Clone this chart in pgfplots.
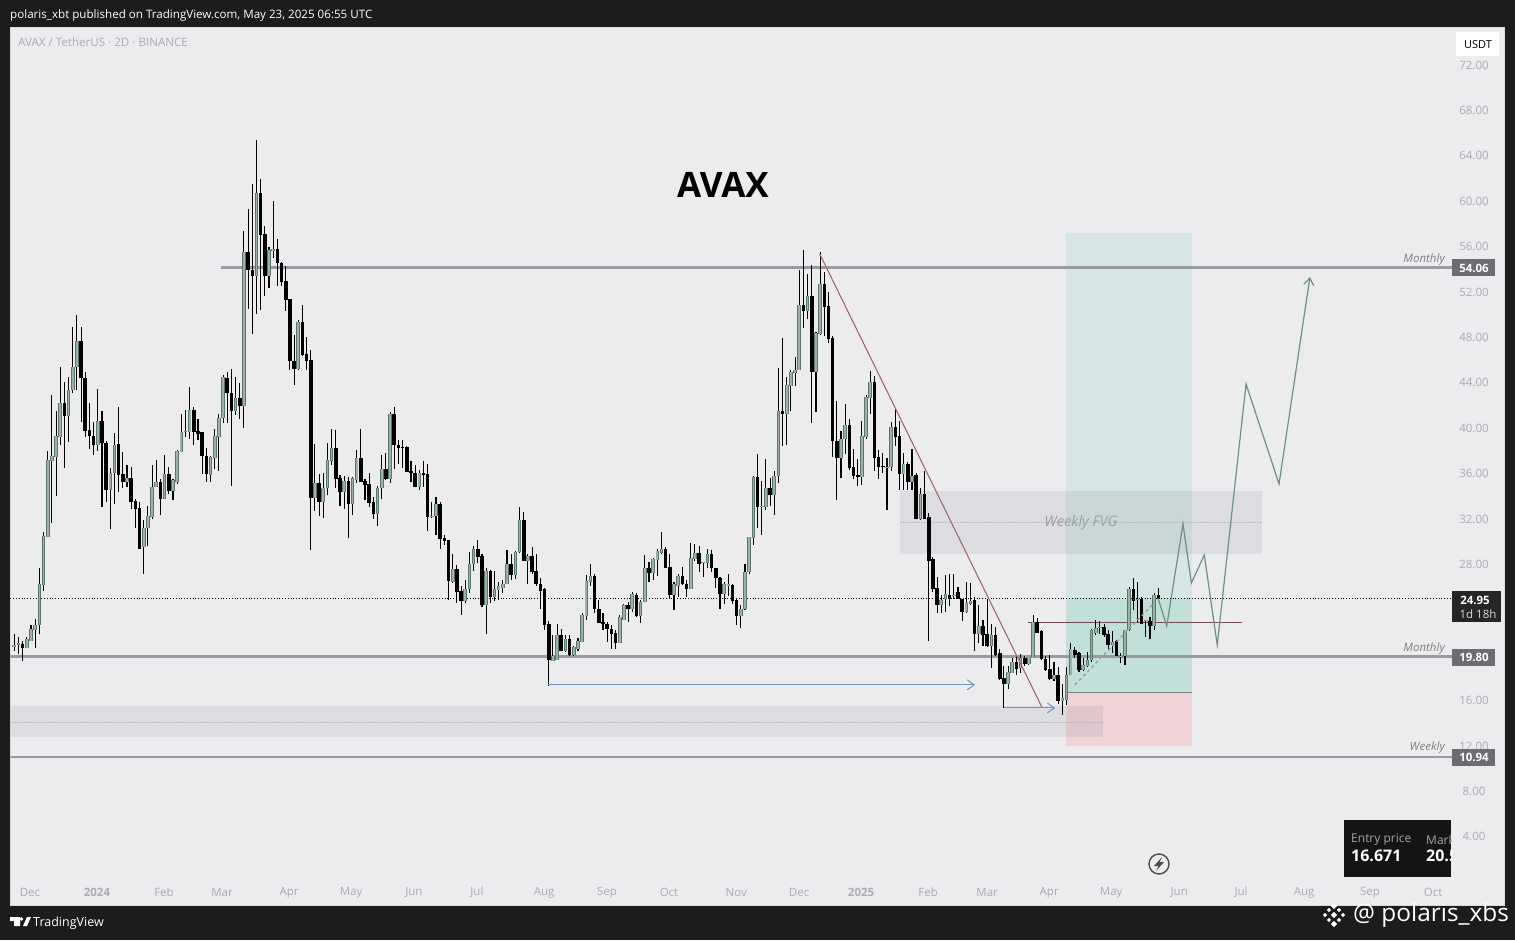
\documentclass[border=0pt]{standalone}
\usepackage{fontspec}
\usepackage{pgfplots}
\usepackage{pgfplotstable}
\pgfplotsset{compat=1.18}
\usetikzlibrary{arrows.meta}
\setmainfont{Open Sans}

\definecolor{frame}{HTML}{1C1C1C}
\definecolor{panel}{HTML}{ECECEF}
\definecolor{ticktext}{HTML}{ABABB0}
\definecolor{levelline}{HTML}{9A9AA3}
\definecolor{tagfill}{HTML}{6C6C72}
\definecolor{zonegray}{HTML}{808090}
\definecolor{tealhi}{HTML}{D6E6E4}
\definecolor{teallo}{HTML}{C3DFD9}
\definecolor{pinkzone}{HTML}{EFD2D6}
\definecolor{trend}{HTML}{A3686F}
\definecolor{arrowblue}{HTML}{6D96C6}
\definecolor{path}{HTML}{6C9082}
\definecolor{upedge}{HTML}{5A7668}
\definecolor{upfill}{HTML}{9EB1A7}

% x = candle number (2D candles), y = price
\pgfplotstableread{
i o h l c
0 20.6 21.8 20.3 20.8
1 20.8 21.5 20.05 21.0
3 20.55 21.5 20.55 21.3
4 21.2 22.55 21.2 22.2
5 22.1 23.1 20.55 22.6
6 22.6 27.55 21.75 26.2
7 26.1 30.8 25.6 30.4
8 30.3 37.9 30.3 37.1
9 37.05 42.8 31.6 37.45
10 37.4 41.4 33.9 39.25
11 39.15 45.3 38.4 42.1
13 41 44.45 38.7 43.3
14 43.3 48.85 43 45.3
15 45.3 49.9 43.3 47.6
20 38.4 43.4 37.9 40.55
23 34.5 36.4 31 36
24 36 39.5 33.2 38.4
27 35.15 36.7 34.7 35.5
31 29.4 31.8 27.1 31.1
32 31.1 33.05 29.5 32.2
33 32.05 36.65 31.9 34.7
34 34.75 37.1 34.7 35.15
36 33.7 37.55 33.65 35.9
38 34.4 35.4 33.6 35.35
39 35.15 38 35 37.9
40 37.85 41.15 37.85 39.6
41 39.6 41.55 39.1 39.7
42 39.6 43.55 39 41.5
47 35.8 37.45 35.2 37.4
48 37.3 39.8 36.3 39.25
49 39.15 41.2 36.15 40.85
50 40.85 44.6 40.4 44.4
53 41.4 44.4 41.05 42.55
55 41.85 57.3 39.95 55.4
58 53.35 65.3 50 60.6
61 53.3 55.85 52.3 55.6
62 55.55 59.9 54.9 55.7
68 45.15 49.45 45 49.3
72 33.8 38.5 32.6 35.1
74 33.45 36 32 34.6
75 34.6 38.65 34 37.1
76 37.05 39.85 36.65 38.2
79 34.3 35.7 32.8 35.25
81 33.2 35.6 32.25 35.5
82 35.35 38 35.1 37.25
87 32.35 34.8 31.3 34.65
88 34.6 37.55 33.65 36.35
90 35.45 41.35 35.1 41.2
97 34.7 36.2 34.45 36
100 32.1 33.4 32 32.2
101 32.15 33.85 30.5 33.2
105 26.35 28.8 26.3 27.5
108 24.65 26.55 24.55 25.7
109 25.7 29 25.35 27.95
110 27.95 29.5 27.35 29.25
113 24.35 27.55 21.75 27.35
115 25 27.3 24.65 25.75
116 25.65 26.35 24.75 26
117 25.85 26.55 25.4 26.2
118 26.2 29.15 26.15 27.95
120 27 29.1 26.6 29
121 29 32.95 28.95 31.8
123 28.2 28.8 26.15 28.65
129 19.4 21.65 19.4 19.8
130 19.5 22.7 19.5 21.65
132 20.3 21.65 20.2 21.3
134 19.9 20.7 19.8 20.6
135 20.5 21.4 20.3 21.15
136 21.1 23.65 21.1 23.45
137 23.35 27 23 26.45
138 26.35 27.95 26.05 26.9
145 21 23.45 21 23.3
146 23.05 24.4 23.05 24.3
148 23.95 25.5 23.7 25.3
150 23.35 24.75 22.75 24.6
151 24.6 28.7 24.6 27.55
153 27.15 28.45 26.5 28.4
154 28.3 29.3 26.9 29.1
155 28.95 30.8 28.85 29.25
158 25.2 26.35 23.85 26.15
159 26.05 27.1 25.05 26.9
162 25.75 29.8 25.7 28.5
163 28.4 29.75 28.2 28.95
165 28 28.1 26.8 28.1
166 28 29.25 27.55 28.85
170 25.3 26.35 24.4 26.15
171 26.05 27.1 25.15 26.15
174 23.35 24.3 22.3 23.95
175 23.95 27.95 23.9 27.25
176 27.2 30.35 27.05 30.35
177 30.25 35.7 29.65 35.65
179 33 35.3 30.5 33.05
180 33 37.2 32.7 34.6
182 34 36.1 32.25 35.7
183 35.7 45.2 35.05 41.4
185 41.2 44.45 38.4 43.7
186 43.65 45.05 41.45 44.85
187 44.75 46.2 43.6 45.05
188 45 53.85 45 50.8
190 50.2 53.5 49.5 51.55
192 44.9 48.35 41.3 48.3
193 48.25 55.4 48.1 52.65
198 37.3 39.65 35.5 38.95
199 38.95 42.05 37.65 40.2
203 35.65 40.55 34.9 39.2
204 39.1 42.85 38.95 42.65
205 42.55 44.95 41.15 43.95
209 36.4 37.25 32.7 36.5
210 36.45 40.45 36.15 40.05
213 35.9 37.7 34.5 36.75
215 35.2 38.05 34.5 35.7
217 31.9 34.6 31.8 34.15
222 24.35 25.2 23.65 24.8
223 24.85 27 23.75 25.3
225 25.1 27.1 24.9 25.2
228 23.7 26.4 23.65 24.5
229 24.4 26.25 24.35 24.7
231 21.8 24.35 21 22.5
234 20.75 22.7 18.75 21.7
238 17.4 19 16.95 18.4
239 18.35 19.65 18.35 19.35
241 18.75 20 18.3 19.7
243 19.1 19.65 19.05 19.65
244 19.7 23.45 19.7 22.8
249 17.8 19.35 17.6 18.15
251 15.85 17.4 14.65 16.1
252 15.95 18.85 15.55 18.2
253 18.2 20.95 18.15 20.45
256 18.6 19.7 18.55 19.05
257 19 20.2 18.9 19.45
258 19.45 22.2 19.35 22.1
259 21.9 23 21.65 22.3
260 22.3 22.95 21.8 22.4
263 20.8 22 20.1 21.1
265 19.75 20.1 19.2 19.8
266 19.85 22.1 19.05 22.1
267 22.1 25.9 22 25.75
269 24.8 26.4 22.85 24.9
271 22.9 23 21.55 23
273 22.5 25.35 22.15 25.2
}\upbars

\pgfplotstableread{
i o h l c
2 20.9 21.2 19.4 20.55
12 42.1 44 36.4 41
16 47.6 48.85 40.5 44.3
17 44.3 44.85 39.15 39.7
18 39.75 42.15 38.1 39.25
19 39.25 40.5 37.55 38.4
21 40.55 41.4 33 38.65
22 38.65 38.8 33.45 34.5
25 38.5 41.8 34.3 35.8
26 35.9 37.85 34.6 35.2
28 35.5 36.45 32.75 33.45
29 33.5 33.65 31.15 32.8
30 32.85 33.45 29.3 29.3
35 35.15 35.4 32.25 33.65
37 35.9 36.5 34.1 34.4
43 41.5 41.75 38.4 39.6
44 39.65 40.7 38.9 39.4
45 39.55 39.6 35.9 37.5
46 37.5 38.15 35.15 35.85
51 44.3 44.85 40.35 43
52 43 45.1 34.8 41.4
54 42.55 43.85 40.75 41.85
56 55.4 59.2 50.4 53.85
57 53.85 61.4 48.2 53.35
59 60.6 61.85 50.3 56.95
60 57 57.75 51.6 53.3
63 55.7 56.6 52.45 54.5
64 54.5 54.55 52.45 52.75
65 52.85 54.2 50.25 51.2
66 51.25 51.3 45 45.8
67 45.85 48.1 43.7 45.15
69 49.3 50.75 46.25 46.35
70 46.45 47.95 45.05 45.85
71 45.9 46.8 29.2 33.8
73 35.05 35.9 32.15 33.45
77 38.2 39.75 34.6 35.45
78 35.5 35.8 33.05 34.3
80 35.25 35.65 30.2 33.2
83 37.25 39.8 35.15 35.2
84 35.25 35.45 33.55 34.9
85 35 36 32.95 33.35
86 33.4 33.85 31.95 32.35
89 36.35 37.75 35.35 35.45
91 41.2 41.75 36.3 38.4
92 38.45 38.9 36.8 38.2
93 38.25 38.85 36.4 38.15
94 38.25 38.3 36.05 36.05
95 36.15 37 35.2 35.95
96 35.95 36.65 34.7 34.75
98 36 37.05 34.75 35.75
99 35.85 36.8 30.85 32.1
102 33.2 33.4 29.25 30.15
103 30.2 30.5 29.6 30
104 30.05 30.1 24.75 26.45
106 27.5 27.9 24.5 25.5
107 25.55 26 23.45 24.65
111 29.25 30.05 28 28.6
112 28.65 28.8 24.2 24.3
114 27.35 27.4 24.5 25
119 27.95 28.8 26.5 27
122 31.8 32.55 28.2 28.2
124 28.65 29.4 27.05 27.25
125 27.3 28.8 26.05 26.15
126 26.2 26.7 24 25.55
127 25.7 25.8 22.15 22.55
128 22.65 22.9 17.2 19.45
131 21.65 22.25 20.3 20.3
133 21.3 21.7 19.8 19.9
139 26.9 27.1 23.6 23.95
140 24 24.8 22.75 22.75
141 22.8 23.6 22.1 22.65
142 22.7 22.85 21.1 22.2
143 22.25 22.6 20.45 21.75
144 21.85 22.1 20.5 21
147 24.3 24.6 22.85 23.95
149 25.25 25.35 23.3 23.35
152 27.55 28.1 26.35 27.15
156 29.3 29.45 27.55 27.55
157 27.65 28.8 24.9 25.2
160 26.9 27.7 26.1 26.15
161 26.2 26.55 25 25.75
164 28.95 29.55 27.2 27.95
167 28.85 29.15 27.2 27.55
168 27.55 27.6 25.85 26.75
169 26.75 26.8 23.95 25.3
172 26.1 26.2 24.4 24.65
173 24.75 24.95 22.55 23.35
178 35.65 37.65 31.15 33
181 34.6 35.5 33.05 34
184 41.4 47.85 38.3 41.2
189 50.8 55.65 48.75 50.2
191 51.55 54.3 40.4 44.9
194 52.65 53.7 48 50.6
195 50.7 51.95 47.45 47.75
196 47.85 48.05 37.4 38.75
197 38.8 42.3 33.6 37.25
200 40.2 40.7 36.2 36.4
201 36.45 38.1 35.4 35.7
202 35.75 37.2 34.8 35.65
206 44 44.5 36.15 37.3
207 37.35 37.95 35.45 36.5
208 36.6 37.7 36 36.45
211 40.05 41.65 38.3 39.15
212 39.2 40.55 34.5 35.9
214 36.75 36.95 34.5 35.2
216 35.75 35.95 31.9 31.9
218 34.15 36.15 31.9 31.9
219 32.1 32.45 21.15 28.25
220 28.4 28.6 25.5 25.75
221 25.85 26.8 23.65 24.35
224 25.2 27.05 24.25 24.9
226 25.45 25.9 24.85 24.9
227 24.9 24.9 22.9 23.7
230 24.75 25.05 20.3 21.8
232 22.5 23 20.75 21.65
233 21.8 24.9 20.6 20.75
235 21.7 22.4 19.8 19.9
236 20.1 20.5 17.7 17.8
237 17.9 19 15.25 17.4
240 19.35 19.9 18.15 18.7
242 19.65 19.8 19 19.1
245 22.8 23.2 21.85 21.9
246 22 22.15 19.5 19.6
247 19.6 19.8 18.55 18.6
248 18.7 19.9 17.7 17.8
250 18.2 18.9 15.6 15.85
254 20.35 20.6 19.65 19.95
255 20.1 20.2 18.45 18.6
261 22.4 22.7 21.55 21.7
262 21.75 22.15 20.35 20.8
264 21.2 21.25 19.8 19.85
268 25.75 26.75 23.85 24.7
270 24.9 25.05 22.65 22.7
272 22.95 23.3 21.3 22.5
274 25.2 25.8 24.7 24.85
}\downbars

\pgfplotsset{
  candle/.style 2 args={forget plot, draw=none, mark=none,
    error bars/.cd, y dir=plus, y explicit, error mark=none,
    error bar style={line width=#1, draw=#2, solid}},
  zone/.style={forget plot, draw=none, fill=#1},
  level/.style={forget plot, mark=none, draw=levelline, line width=#1},
}

\begin{document}
\begin{tikzpicture}
\useasboundingbox (0,0) rectangle (1515pt,940pt);
\fill[frame] (0,0) rectangle (1515pt,940pt);

\begin{axis}[
  at={(10.5pt,35pt)}, anchor=south west,
  scale only axis, width=1494pt, height=878pt,
  xmin=-0.91, xmax=356.9,
  ymin=-2.1, ymax=75.26,
  axis background/.style={fill=panel},
  axis line style={draw=white!70!gray, line width=0.8pt},
  tick style={draw=none},
  % 20 and 24 sit behind the price tags
  ytick={4,8,12,16,28,32,36,40,44,48,52,56,60,64,68,72},
  ytick pos=right, yticklabel pos=right,
  scaled y ticks=false,
  y tick label style={/pgf/number format/fixed, /pgf/number format/fixed zerofill, /pgf/number format/precision=2, /pgf/number format/assume math mode=true, anchor=center, xshift=-30.5pt, yshift=-1pt, font=\fontsize{11.5}{12}\selectfont, text=ticktext},
  xtick={3.76,19.8,35.86,49.75,65.8,80.65,95.7,110.8,126.9,141.96,156.8,172.9,187.95,202.8,218.85,233,247.85,262.7,279,293.8,308.9,324.7,339.8},
  xticklabels={Dec,\textbf{2024},Feb,Mar,Apr,May,Jun,Jul,Aug,Sep,Oct,Nov,Dec,\textbf{2025},Feb,Mar,Apr,May,Jun,Jul,Aug,Sep,Oct},
  x tick label style={anchor=center, yshift=12.5pt, font=\fontsize{11.5}{12}\selectfont, text=ticktext},
]
% zones
\addplot[zone=tealhi] coordinates {(251.9,57.11) (282.1,57.11) (282.1,24.95) (251.9,24.95)} -- cycle;
\addplot[zone=teallo] coordinates {(251.9,24.95) (282.1,24.95) (282.1,16.67) (251.9,16.67)} -- cycle;
\addplot[zone=pinkzone] coordinates {(251.9,16.67) (282.1,16.67) (282.1,11.91) (251.9,11.91)} -- cycle;
\addplot[zone=zonegray, opacity=0.14] coordinates {(-0.91,15.44) (260.8,15.44) (260.8,12.7) (-0.91,12.7)} -- cycle;
\addplot[zone=zonegray, opacity=0.14] coordinates {(212.1,34.38) (298.8,34.38) (298.8,28.83) (212.1,28.83)} -- cycle;
\addplot[forget plot, mark=none, draw=gray, line width=0.9pt] coordinates {(251.9,16.67) (282.1,16.67)};
\addplot[forget plot, mark=none, densely dotted, draw=gray!55, line width=0.5pt] coordinates {(212.1,31.65) (298.8,31.65)};
\addplot[forget plot, mark=none, densely dotted, draw=gray!55, line width=0.5pt] coordinates {(-0.91,14.03) (260.8,14.03)};
% key levels
\addplot[level=3pt] coordinates {(49.5,54.06) (344.3,54.06)};
\addplot[level=3pt] coordinates {(-0.91,19.80) (344.3,19.80)};
\addplot[level=2pt] coordinates {(-0.91,10.94) (344.3,10.94)};
\addplot[forget plot, mark=none, black, dotted, line width=0.8pt] coordinates {(-0.91,24.95) (344.3,24.95)};
\addplot[forget plot, mark=none, draw=trend!70!black, line width=1pt] coordinates {(242.8,22.8) (294.1,22.8)};
% candles
\addplot[candle={1.1pt}{black}] table[x=i, y=l, y error plus expr=\thisrow{h}-\thisrow{l}] {\upbars};
\addplot[candle={1.1pt}{black}] table[x=i, y=l, y error plus expr=\thisrow{h}-\thisrow{l}] {\downbars};
\addplot[candle={3.6pt}{upedge}] table[x=i, y=o, y error plus expr=\thisrow{c}-\thisrow{o}] {\upbars};
\addplot[candle={1.7pt}{upfill}] table[x=i, y=o, y error plus expr=\thisrow{c}-\thisrow{o}] {\upbars};
\addplot[candle={3.6pt}{black}] table[x=i, y=c, y error plus expr=\thisrow{o}-\thisrow{c}] {\downbars};
% drawings
\addplot[forget plot, mark=none, draw=trend, line width=1.1pt] coordinates {(192.9,55.26) (246.2,15.26)};
\addplot[forget plot, mark=none, draw=arrowblue, line width=1pt, -{Straight Barb[length=7pt,width=10pt]}] coordinates {(127.8,17.3) (230.1,17.3)};
\addplot[forget plot, mark=none, draw=arrowblue, line width=1pt, -{Straight Barb[length=7pt,width=10pt]}] coordinates {(237.1,15.26) (249.3,15.26)};
\addplot[forget plot, mark=none, draw=gray!80, dashed, line width=1.3pt] coordinates {(254,17.3) (273.2,24.6)};
\addplot[forget plot, mark=none, draw=path, line width=1.2pt, -{Straight Barb[length=7pt,width=10pt]}] coordinates {(273.9,24.95) (276,22.48) (279.9,31.47) (281.9,26.27) (285,28.74) (288.1,20.81) (295,43.8) (302.9,35) (310.3,53.23)};
\end{axis}

\begin{scope}[x=1pt, y=-1pt, shift={(0pt,940pt)}]
% header and footer
\node[anchor=west, inner sep=0, white, font=\fontsize{11.6}{12}\selectfont] at (10,15.5) {polaris\_xbt published on TradingView.com, May 23, 2025 06:55 UTC};
\node[anchor=west, inner sep=0, ticktext, font=\fontsize{11.6}{12}\selectfont] at (18,42.5) {AVAX / TetherUS · 2D · BINANCE};
\fill[white] (1456,32) rectangle (1499,56);
\node[black, font=\fontsize{11}{12}\selectfont] at (1478,44.5) {USDT};
\node[font=\bfseries\fontsize{35}{37}\selectfont] at (723,185) {AVAX};
\node[font=\itshape\fontsize{14.6}{15}\selectfont, text=gray!75] at (1081,523) {Weekly FVG};
\foreach \yy/\lab in {259.5/Monthly,648.5/Monthly,748/Weekly}
  \node[anchor=east, inner sep=0, font=\itshape\fontsize{11.5}{12}\selectfont, text=gray] at (1445,\yy) {\lab};
% price tags
\foreach \yy/\lab in {268/54.06,657.5/19.80,757.5/10.94} {
  \fill[tagfill] (1452,\yy-8.5) rectangle (1495,\yy+8.5);
  \node[white, font=\bfseries\fontsize{11.5}{12}\selectfont] at (1474,\yy) {\lab};
}
\fill[black!85] (1452,591) rectangle (1501,622);
\node[white, font=\bfseries\fontsize{11.5}{12}\selectfont] at (1475,600) {24.95};
\node[white!85!black, font=\fontsize{11.5}{12}\selectfont] at (1478,614) {1d 18h};
% position box
\begin{scope}
\clip (1344,820) rectangle (1451,877);
\fill[black!92] (1344,820) rectangle (1451,877);
\node[anchor=west, inner sep=0, text=gray!70, font=\fontsize{12}{13}\selectfont] at (1351,839.5) {Entry price};
\node[anchor=west, inner sep=0, white, font=\bfseries\fontsize{16}{17}\selectfont] at (1351,856) {16.671};
\node[anchor=west, inner sep=0, text=gray!70, font=\fontsize{12}{13}\selectfont] at (1426,839.5) {Mark};
\node[anchor=west, inner sep=0, white, font=\bfseries\fontsize{16}{17}\selectfont] at (1426,856) {20.5};
\end{scope}
% lightning icon
\draw[black!70, line width=1.4pt] (1159,864) circle (10);
\fill[black!70] (1162,857) -- (1154,866) -- (1158.5,866) -- (1156,871) -- (1164,862) -- (1159.5,862) -- cycle;
% TradingView logo
\fill[white] (10,917) rectangle (20,921) (14,917) rectangle (20,926);
\fill[white] (21.5,919) circle (1.8);
\fill[white] (23,926) -- (27,917) -- (31,917) -- (27,926) -- cycle;
\node[anchor=west, inner sep=0, white, font=\fontsize{12.5}{14}\selectfont] at (33,923) {TradingView};
% watermark
\foreach \cx/\cy/\r in {1334/915/3.2,1334/906/3.2,1334/924/3.2,1325/915/2.2,1343/915/2.2,1329/910/2.2,1339/910/2.2,1329/920/2.2,1339/920/2.2}
  \fill[white] (\cx-\r,\cy) -- (\cx,\cy-\r) -- (\cx+\r,\cy) -- (\cx,\cy+\r) -- cycle;
\node[anchor=west, inner sep=0, white, font=\fontsize{24.4}{26}\selectfont] at (1353,915.5) {@ polaris\_xbs};
\end{scope}
\end{tikzpicture}
\end{document}
